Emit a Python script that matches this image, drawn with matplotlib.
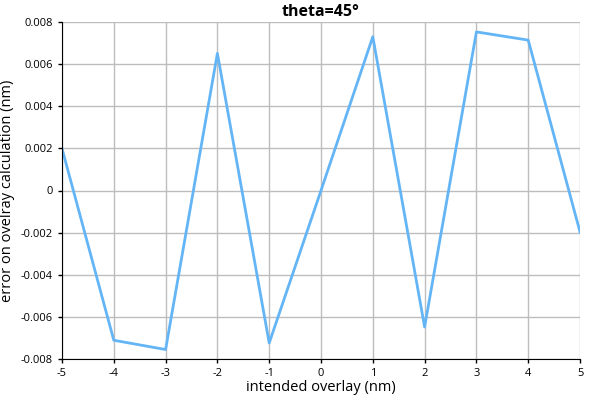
import matplotlib
matplotlib.use("Agg")
import matplotlib.pyplot as plt

# intended overlay (nm) and error on overlay calculation (nm)
overlay = [-5, -4, -3, -2, -1, 0, 1, 2, 3, 4, 5]
error = [0.0020, -0.00711, -0.00755, 0.00651, -0.00724, 0.0,
         0.0073, -0.00648, 0.00753, 0.00714, -0.00197]

plt.rcParams['font.family'] = ['Open Sans', 'DejaVu Sans']
plt.rcParams['axes.unicode_minus'] = False

fig = plt.figure(figsize=(6, 4), dpi=100)
ax = fig.add_axes([0.1033, 0.1025, 0.8634, 0.8425])

ax.plot(overlay, error, color='#64B5F6', linewidth=2.0)

ax.set_xlim(-5, 5)
ax.set_ylim(-0.008, 0.008)
ax.set_xticks(range(-5, 6))
yt = [-0.008, -0.006, -0.004, -0.002, 0, 0.002, 0.004, 0.006, 0.008]
ax.set_yticks(yt)
ax.set_yticklabels(['0' if v == 0 else f'{v:.3f}' for v in yt])
ax.tick_params(labelsize=8, length=3, width=1, color='black')
ax.grid(True, color='#bdbdbd', linewidth=1)
ax.set_axisbelow(True)

for s in ['top', 'right']:
    ax.spines[s].set_visible(False)
for s in ['left', 'bottom']:
    ax.spines[s].set_color('black')

ax.set_xlabel('intended overlay (nm)', fontsize=10.5, labelpad=1)
ax.set_ylabel('error on ovelray calculation (nm)', fontsize=10.5, labelpad=4)
ax.set_title('theta=45°', fontsize=11.5, fontweight='bold', pad=4)

fig.savefig('out.png', dpi=100, facecolor='white')
